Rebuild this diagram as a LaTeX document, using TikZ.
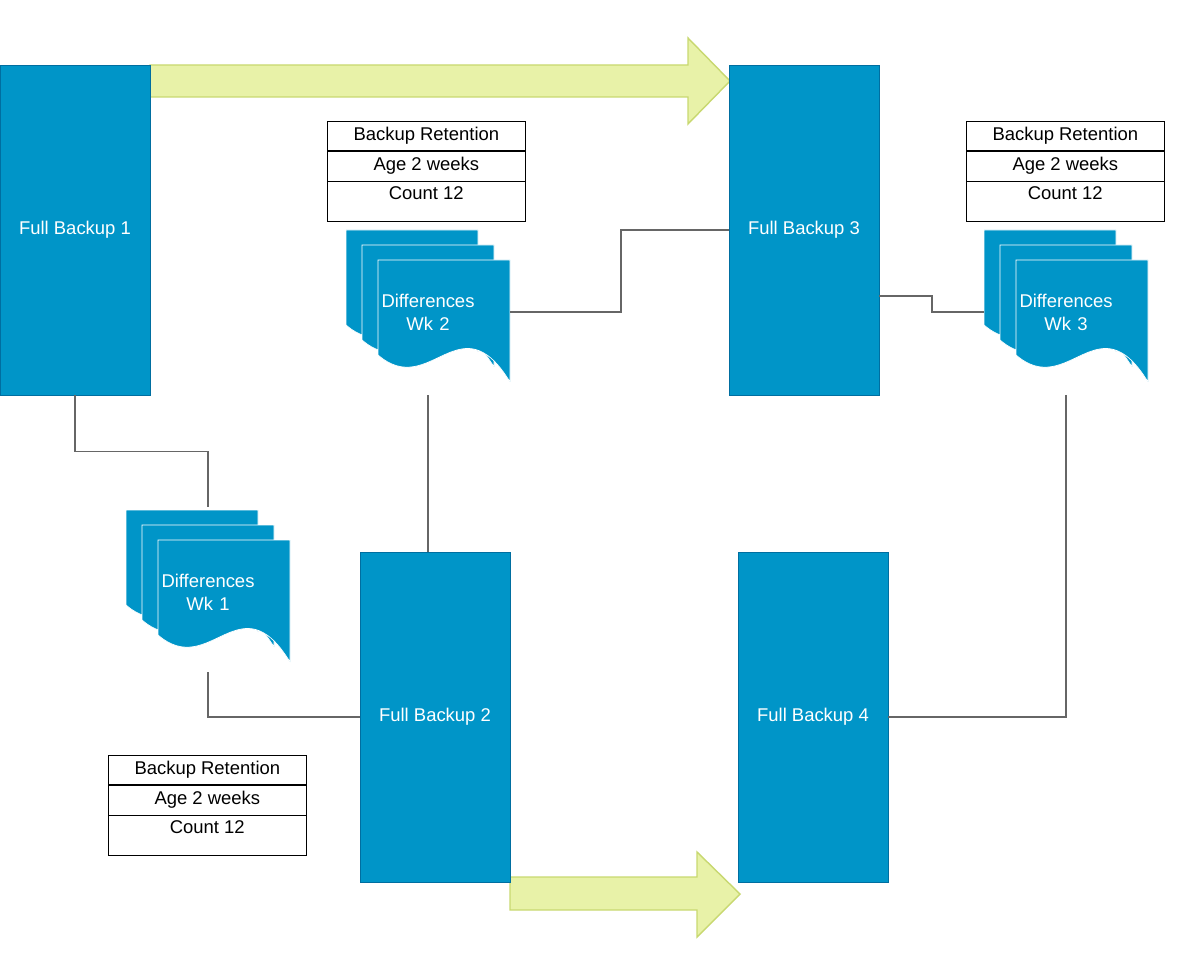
\documentclass[tikz,border=0pt]{standalone}
\usepackage{fontspec}
\setmainfont{Liberation Sans}
\definecolor{bkblue}{HTML}{0095C8}
\definecolor{bkedge}{HTML}{006EA0}
\definecolor{arrfill}{HTML}{E8F2A8}
\definecolor{arredge}{HTML}{C8D870}
\tikzset{
    full/.style={draw=bkedge,fill=bkblue,text=white,minimum width=3cm,minimum height=6.6cm,inner sep=0pt,font=\fontsize{10.5}{13}\selectfont},
    rowbox/.style={draw=black,fill=white,minimum width=3.96cm,inner sep=0pt,font=\fontsize{10.5}{13}\selectfont},
    doctext/.style={text=white,text width=2.7cm,align=center,inner sep=0pt,font=\fontsize{10.5}{13}\selectfont},
    wire/.style={draw=black!60,thick},
    bigarrow/.style={draw=arredge,fill=arrfill,thick}
}
% one page of a document stack, top left corner at #1,#2
\newcommand{\docpage}[2]{%
    \filldraw[fill=bkblue,draw=white] (#1,#2) -- ++(132,0) -- ++(0,122)
        .. controls ++(-50,-82) and ++(52,45) .. ++(-132,-27) -- cycle;
}
% three pages with label
\newcommand{\docstack}[4]{%
    \docpage{#1-32}{#2-30}
    \docpage{#1-16}{#2-15}
    \docpage{#1}{#2}
    \node[doctext] (#3) at (#1+50,#2+52) {#4};
}
% retention table, top left corner at #1,#2
\newcommand{\retention}[3]{%
    \node[rowbox,anchor=north west,minimum height=0.58cm] (#3r1) at (#1,#2) {Backup Retention};
    \node[rowbox,anchor=north,minimum height=0.6cm] (#3r2) at (#3r1.south) {Age 2 weeks};
    \node[rowbox,anchor=north,minimum height=0.8cm,text depth=0.35cm] (#3r3) at (#3r2.south) {Count 12};
}
\begin{document}
\begin{tikzpicture}[x=0.02cm,y=-0.02cm]
    \useasboundingbox (0,0) rectangle (1200,969);
    %arrows
    \draw[bigarrow] (150,65) -- (688,65) -- (688,38) -- (730,81) -- (688,124) -- (688,97) -- (150,97) -- cycle;
    \draw[bigarrow] (510,877) -- (697,877) -- (697,852) -- (740,894) -- (697,937) -- (697,910) -- (510,910) -- cycle;
    %full backups
    \node[full] (fb1) at (75,230) {Full Backup 1};
    \node[full] (fb3) at (804,230) {Full Backup 3};
    \node[full] (fb2) at (435,717) {Full Backup 2};
    \node[full] (fb4) at (813,717) {Full Backup 4};
    %differences
    \docstack{378}{260}{wk2}{Differences Wk 2}
    \docstack{1016}{260}{wk3}{Differences Wk 3}
    \docstack{158}{540}{wk1}{Differences Wk 1}
    \coordinate (wk1top) at (208,507);
    \coordinate (wk1bot) at (208,672);
    \coordinate (wk2bot) at (428,395);
    \coordinate (wk2right) at (510,312);
    \coordinate (wk3left) at (984,312);
    \coordinate (wk3bot) at (1066,395);
    %tables
    \retention{327}{121}{ta}
    \retention{966}{121}{tb}
    \retention{108}{755}{tc}
    %connectors
    \draw[wire] (fb1.south) -- ++(0,56) -| (wk1top);
    \draw[wire] (wk1bot) |- (fb2.west);
    \draw[wire] (wk2bot |- fb2.north) -- (wk2bot);
    \draw[wire] (wk2right) -- (621,312) |- (fb3.west);
    \draw[wire] (fb3.east |- 0,296) -- (932,296) |- (wk3left);
    \draw[wire] (wk3bot) |- (fb4.east);
\end{tikzpicture}
\end{document}
